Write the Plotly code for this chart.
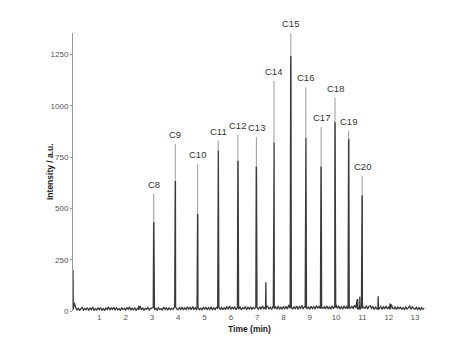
import plotly.graph_objects as go

# ---- data ----
peak_labels = ["C8", "C9", "C10", "C11", "C12", "C13", "C14",
               "C15", "C16", "C17", "C18", "C19", "C20"]
peak_times = [3.07, 3.89, 4.74, 5.52, 6.27, 6.97, 7.64,
              8.28, 8.85, 9.43, 9.96, 10.48, 10.99]
peak_heights = [570, 813, 717, 831, 858, 847, 1121,
                1353, 1090, 897, 1040, 879, 659]
peak_shoulders = [430, 631, 470, 782, 729, 700, 821,
                  1239, 845, 700, 917, 834, 560]

minor_times = [0.0, 2.5, 7.33, 10.82, 10.9, 11.6, 12.05]
minor_heights = [200, 26, 140, 58, 70, 72, 36]

baseline_start = 0.0
baseline_step = 0.05
baseline_values = [
    70, 40, 18, 5, 13, 3, 11, 18, 4, 12, 6, 16, 3, 14, 7, 19, 4, 11, 5, 15,
    6, 17, 4, 12, 3, 14, 7, 20, 5, 15, 8, 18, 4, 16, 6, 12, 3, 17, 7, 13,
    5, 16, 8, 20, 4, 13, 6, 15, 3, 12, 7, 24, 5, 16, 4, 13, 8, 17, 5, 12,
    14, 18, 6, 13, 4, 16, 7, 12, 5, 19, 8, 15, 4, 17, 6, 13, 7, 18, 21, 9,
    6, 16, 8, 19, 5, 15, 7, 20, 9, 17, 6, 22, 8, 16, 5, 18, 7, 14, 6, 17,
    9, 19, 6, 16, 8, 21, 5, 15, 7, 18, 10, 20, 6, 17, 8, 16, 7, 22, 9, 24,
    8, 18, 10, 21, 6, 17, 9, 19, 7, 16, 11, 22, 6, 18, 9, 20, 8, 17, 11, 23,
    17, 9, 20, 8, 25, 12, 19, 27, 21, 10, 18, 8, 22, 12, 20, 9, 24, 8, 19, 10,
    21, 11, 23, 9, 29, 13, 22, 10, 20, 12, 24, 8, 21, 13, 27, 10, 22, 31, 12, 19,
    9, 23, 12, 21, 10, 26, 14, 22, 11, 32, 13, 21, 10, 24, 12, 20, 9, 25, 11, 22,
    30, 13, 23, 11, 21, 9, 25, 12, 22, 10, 33, 14, 24, 11, 28, 16, 55, 20, 32, 15,
    42, 18, 13, 26, 10, 22, 25, 12, 21, 9, 19, 11, 23, 13, 22, 8, 20, 10, 24, 12,
    19, 25, 32, 13, 10, 21, 8, 20, 11, 18, 9, 17, 7, 19, 10, 16, 24, 8, 21, 12,
    9, 18, 7, 17, 6, 16, 8, 14,
]

y_tick_vals = [0, 250, 500, 750, 1000, 1250]
x_tick_vals = list(range(1, 14))

# ---- build the chromatogram trace ----
points = []
for i, v in enumerate(baseline_values):
    points.append((baseline_start + i * baseline_step, v))
for t, s in zip(peak_times, peak_shoulders):
    points += [(t - 0.025, 16), (t - 0.004, s), (t + 0.004, s), (t + 0.025, 16)]
for t, h in zip(minor_times, minor_heights):
    points += [(t - 0.012, 8), (t, h), (t + 0.012, 8)]
points.sort(key=lambda p: p[0])
xs = [p[0] for p in points]
ys = [p[1] for p in points]

# peak tips (thin, lighter part of each sharp peak)
tip_x, tip_y = [], []
for t, h, s in zip(peak_times, peak_heights, peak_shoulders):
    tip_x += [t, t, None]
    tip_y += [s, h, None]

fig = go.Figure()
fig.add_trace(go.Scatter(
    x=tip_x, y=tip_y, mode="lines",
    line=dict(color="#9a9a9a", width=1),
    hoverinfo="skip", showlegend=False,
))
fig.add_trace(go.Scatter(
    x=xs, y=ys, mode="lines",
    line=dict(color="#3a3a3a", width=1.3),
    hoverinfo="skip", showlegend=False,
))

for lab, t, h in zip(peak_labels, peak_times, peak_heights):
    fig.add_annotation(
        x=t, y=h, text=lab, showarrow=False,
        xanchor="center", yanchor="bottom", yshift=2,
        font=dict(size=9.5, color="#333333"),
    )

# axis titles
fig.add_annotation(
    xref="paper", yref="paper", x=0, y=0.5, xshift=-23,
    text="<b>Intensity / a.u.</b>", textangle=-90, showarrow=False,
    xanchor="center", yanchor="middle",
    font=dict(size=8.5, color="#222222"),
)
fig.add_annotation(
    xref="paper", yref="paper", x=0.5, y=0, yshift=-18,
    text="<b>Time (min)</b>", showarrow=False,
    xanchor="center", yanchor="middle",
    font=dict(size=8.5, color="#222222"),
)

# page body has an 8px default margin; figure sized to fit inside the window
fig.update_layout(
    width=458, height=339,
    margin=dict(l=65, r=41, t=25, b=35.5, autoexpand=False),
    paper_bgcolor="white", plot_bgcolor="white",
    font=dict(family="Liberation Sans, Arial, sans-serif", size=8, color="#555555"),
    showlegend=False,
)
fig.update_xaxes(
    range=[0, 13.38], tickvals=x_tick_vals, ticks="", ticklen=0,
    showgrid=False, zeroline=False, showline=False, automargin=False,
    tickfont=dict(size=8, color="#555555"),
)
fig.update_yaxes(
    range=[0, 1355], tickvals=y_tick_vals, ticks="outside", ticklen=2,
    tickcolor="#999999", showgrid=False, zeroline=False, automargin=False,
    showline=True, linecolor="#999999", linewidth=1,
    tickfont=dict(size=8, color="#555555"),
)

fig.write_html("out.html")
